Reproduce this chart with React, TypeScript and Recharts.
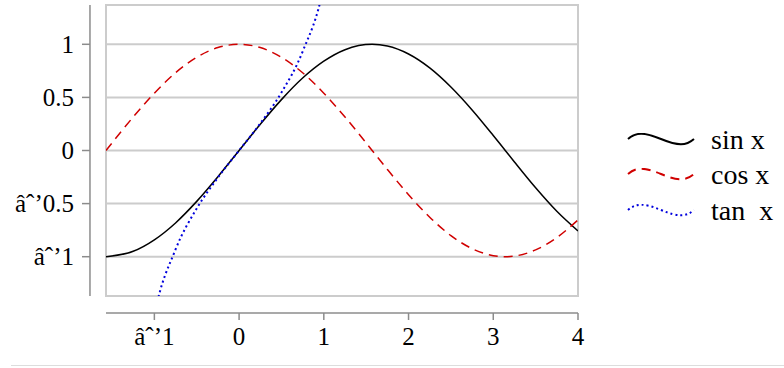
import { LineChart, Line, XAxis, YAxis, CartesianGrid, ReferenceLine, ReferenceArea, Legend } from "recharts";

// sample points along x (radians)
const xs = [
  -1.5708, -1.25, -1, -0.75, -0.5, -0.25, 0, 0.25, 0.5, 0.75, 1, 1.25,
  1.5708, 1.75, 2, 2.25, 2.5, 2.75, 3, 3.1416, 3.25, 3.5, 3.75, 4
];
const sinValues = [
  -1, -0.949, -0.841, -0.682, -0.479, -0.247, 0, 0.247, 0.479, 0.682, 0.841, 0.949,
  1, 0.984, 0.909, 0.778, 0.598, 0.382, 0.141, 0, -0.108, -0.351, -0.572, -0.757
];
const cosValues = [
  0, 0.315, 0.54, 0.732, 0.878, 0.969, 1, 0.969, 0.878, 0.732, 0.54, 0.315,
  0, -0.178, -0.416, -0.628, -0.801, -0.924, -0.99, -1, -0.994, -0.936, -0.82, -0.654
];
const tanValues = [
  null, -3.01, -1.557, -0.932, -0.546, -0.255, 0, 0.255, 0.546, 0.932, 1.557, 3.01,
  null, null, null, null, null, null, null, null, null, null, null, null
];

const xTicks = [-1, 0, 1, 2, 3, 4];
const xTickLabels = ["âˆ’1", "0", "1", "2", "3", "4"];
const yTicks = [-1, -0.5, 0, 0.5, 1];
const yTickLabels = ["âˆ’1", "âˆ’0.5", "0", "0.5", "1"];

const seriesNames = ["sin x", "cos x", "tan  x"];

const data = xs.map((x, i) => ({
  x,
  sin: sinValues[i],
  cos: cosValues[i],
  tan: tanValues[i]
}));

const X_MIN = -1.5708;
const X_MAX = 4;
const Y_MIN = -1.37;
const Y_MAX = 1.37;
// axes sit a little away from the plot box
const Y_AXIS_AT = -1.76;
const X_AXIS_AT = -1.53;

const FONT = "'Liberation Serif', 'Times New Roman', serif";
const AXIS_COLOR = "#8c8c8c";
const GRID_COLOR = "#cccccc";

const lineStyles: Record<string, { stroke: string; dash?: string }> = {
  "sin x": { stroke: "#000000" },
  "cos x": { stroke: "#d00000", dash: "9 6" },
  "tan  x": { stroke: "#0000dd", dash: "2 3" }
};

const YTick = (props: any) => {
  const { y, payload } = props;
  const label = yTickLabels[yTicks.indexOf(payload.value)];
  return (
    <g>
      <line x1={82} x2={90} y1={y} y2={y} stroke={AXIS_COLOR} strokeWidth={1.5} />
      <text x={74} y={y + 8.5} textAnchor="end" fontFamily={FONT} fontSize={25} fill="#000">
        {label}
      </text>
    </g>
  );
};

const XTick = (props: any) => {
  const { x, payload } = props;
  const label = xTickLabels[xTicks.indexOf(payload.value)];
  return (
    <g>
      <line x1={x} x2={x} y1={313} y2={320} stroke={AXIS_COLOR} strokeWidth={1.5} />
      <text x={x} y={345} textAnchor="middle" fontFamily={FONT} fontSize={25} fill="#000">
        {label}
      </text>
    </g>
  );
};

const wavePath = "M 1 6 C 9 -1, 17 -1, 34 6 S 59 13, 67 6";

const LegendContent = () => (
  <div style={{ fontFamily: FONT, fontSize: 28 }}>
    {seriesNames.map((name) => {
      const st = lineStyles[name];
      return (
        <div key={name} style={{ display: "flex", alignItems: "center", height: 35.5 }}>
          <svg width={70} height={14} style={{ marginRight: 14 }}>
            <path d={wavePath} fill="none" stroke={st.stroke} strokeWidth={2} strokeDasharray={st.dash} />
          </svg>
          <span style={{ whiteSpace: "pre", lineHeight: "28px" }}>{name}</span>
        </div>
      );
    })}
  </div>
);

export default function App() {
  return (
    <div style={{ position: "absolute", left: 0, top: 0, width: 784, height: 368 }}>
      <LineChart width={784} height={368} data={data} margin={{ top: 5, right: 206, bottom: 0, left: 0 }}>
        <CartesianGrid vertical={false} stroke={GRID_COLOR} strokeWidth={2} horizontalValues={yTicks} />
        <ReferenceArea x1={X_MIN} x2={X_MAX} y1={Y_MIN} y2={Y_MAX} fill="none" stroke={GRID_COLOR} strokeWidth={2} fillOpacity={0} />
        <XAxis
          type="number"
          dataKey="x"
          domain={[X_MIN, X_MAX]}
          allowDataOverflow
          ticks={xTicks}
          height={72}
          axisLine={false}
          tickLine={false}
          tick={<XTick />}
        />
        <YAxis
          type="number"
          domain={[Y_MIN, Y_MAX]}
          allowDataOverflow
          ticks={yTicks}
          width={106}
          axisLine={false}
          tickLine={false}
          tick={<YTick />}
        />
        <ReferenceLine
          segment={[{ x: Y_AXIS_AT, y: Y_MAX }, { x: Y_AXIS_AT, y: Y_MIN }]}
          ifOverflow="visible"
          stroke={AXIS_COLOR}
          strokeWidth={1.5}
        />
        <ReferenceLine
          segment={[{ x: X_MIN, y: X_AXIS_AT }, { x: X_MAX, y: X_AXIS_AT }]}
          ifOverflow="visible"
          stroke={AXIS_COLOR}
          strokeWidth={1.5}
        />
        <Line type="monotone" dataKey="sin" name={seriesNames[0]} stroke="#000000" strokeWidth={1.5} dot={false} isAnimationActive={false} />
        <Line type="monotone" dataKey="cos" name={seriesNames[1]} stroke="#d00000" strokeWidth={1.5} strokeDasharray="9 6" dot={false} isAnimationActive={false} />
        <Line type="monotone" dataKey="tan" name={seriesNames[2]} stroke="#0000dd" strokeWidth={2} strokeDasharray="2 3" dot={false} connectNulls={false} isAnimationActive={false} />
        <Legend
          layout="vertical"
          align="center"
          verticalAlign="middle"
          content={<LegendContent />}
          wrapperStyle={{ left: 627, top: 122, width: 157 }}
        />
      </LineChart>
      <div style={{ position: "absolute", left: 11, top: 365, width: 773, height: 1, background: "#dddddd" }} />
    </div>
  );
}
